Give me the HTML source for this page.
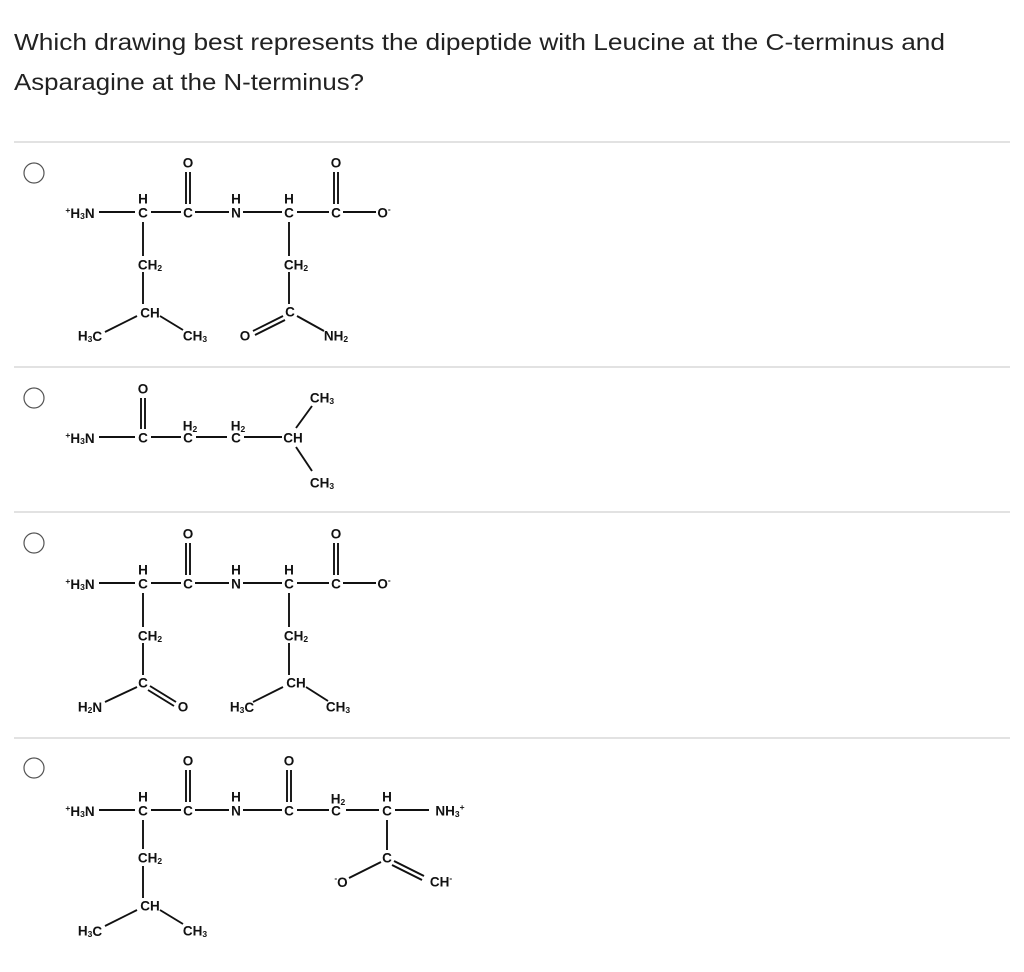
<!DOCTYPE html>
<html><head><meta charset="utf-8"><style>
html,body{margin:0;padding:0;background:#fff;width:1024px;height:972px;overflow:hidden}
svg{position:absolute;left:0;top:0}
.q{font-family:"Liberation Sans",sans-serif;font-size:23px;fill:#222}
.t{font-family:"Liberation Sans",sans-serif;font-weight:bold;font-size:13.5px;fill:#111;text-anchor:middle;dominant-baseline:central}
.s{font-size:8.5px}
line.b{stroke:#111;stroke-width:1.9}
line.sep{stroke:#d0d0d0;stroke-width:1.3}
circle.r{fill:#fff;stroke:#555;stroke-width:1.2}
</style></head><body>
<svg width="1024" height="972" viewBox="0 0 1024 972">
<text class="q" x="14" y="50" textLength="931" lengthAdjust="spacingAndGlyphs">Which drawing best represents the dipeptide with Leucine at the C-terminus and</text>
<text class="q" x="14" y="90" textLength="350" lengthAdjust="spacingAndGlyphs">Asparagine at the N-terminus?</text>
<line class="sep" x1="14" y1="142" x2="1010" y2="142"/>
<line class="sep" x1="14" y1="367" x2="1010" y2="367"/>
<line class="sep" x1="14" y1="512" x2="1010" y2="512"/>
<line class="sep" x1="14" y1="738" x2="1010" y2="738"/>
<circle class="r" cx="34" cy="173" r="10"/>
<circle class="r" cx="34" cy="398" r="10"/>
<circle class="r" cx="34" cy="543" r="10"/>
<circle class="r" cx="34" cy="768" r="10"/>

<!-- Structure 1 -->
<g>
<text class="t" x="80" y="213"><tspan class="s" dy="-3">+</tspan><tspan dy="3">H</tspan><tspan class="s" dy="3">3</tspan><tspan dy="-3">N</tspan></text>
<text class="t" x="143" y="199">H</text><text class="t" x="143" y="213">C</text>
<text class="t" x="188" y="163">O</text><text class="t" x="188" y="213">C</text>
<text class="t" x="236" y="199">H</text><text class="t" x="236" y="213">N</text>
<text class="t" x="289" y="199">H</text><text class="t" x="289" y="213">C</text>
<text class="t" x="336" y="163">O</text><text class="t" x="336" y="213">C</text>
<text class="t" x="384" y="213">O<tspan class="s" dy="-4">-</tspan></text>
<line class="b" x1="99" y1="212" x2="135" y2="212"/><line class="b" x1="151" y1="212" x2="181" y2="212"/>
<line class="b" x1="195" y1="212" x2="229" y2="212"/><line class="b" x1="243" y1="212" x2="282" y2="212"/>
<line class="b" x1="297" y1="212" x2="329" y2="212"/><line class="b" x1="343" y1="212" x2="376" y2="212"/>
<line class="b" x1="186" y1="172" x2="186" y2="204"/><line class="b" x1="190" y1="172" x2="190" y2="204"/>
<line class="b" x1="334" y1="172" x2="334" y2="204"/><line class="b" x1="338" y1="172" x2="338" y2="204"/>
<line class="b" x1="143" y1="222" x2="143" y2="256"/><line class="b" x1="143" y1="272" x2="143" y2="304"/>
<text class="t" x="150" y="265">CH<tspan class="s" dy="3">2</tspan></text>
<text class="t" x="150" y="313">CH</text>
<line class="b" x1="137" y1="316" x2="105" y2="332"/><line class="b" x1="160" y1="316" x2="183" y2="330"/>
<text class="t" x="90" y="336">H<tspan class="s" dy="3">3</tspan><tspan dy="-3">C</tspan></text>
<text class="t" x="195" y="336">CH<tspan class="s" dy="3">3</tspan></text>
<line class="b" x1="289" y1="222" x2="289" y2="256"/><line class="b" x1="289" y1="272" x2="289" y2="304"/>
<text class="t" x="296" y="265">CH<tspan class="s" dy="3">2</tspan></text>
<text class="t" x="290" y="312">C</text>
<line class="b" x1="283" y1="316" x2="253" y2="331"/><line class="b" x1="285" y1="320" x2="255" y2="335"/>
<line class="b" x1="297" y1="316" x2="324" y2="331"/>
<text class="t" x="245" y="336">O</text>
<text class="t" x="336" y="336">NH<tspan class="s" dy="3">2</tspan></text>
</g>

<!-- Structure 2 -->
<g>
<text class="t" x="80" y="438"><tspan class="s" dy="-3">+</tspan><tspan dy="3">H</tspan><tspan class="s" dy="3">3</tspan><tspan dy="-3">N</tspan></text>
<text class="t" x="143" y="389">O</text><text class="t" x="143" y="438">C</text>
<line class="b" x1="141" y1="398" x2="141" y2="429"/><line class="b" x1="145" y1="398" x2="145" y2="429"/>
<text class="t" x="190" y="426">H<tspan class="s" dy="3">2</tspan></text><text class="t" x="188" y="438">C</text>
<text class="t" x="238" y="426">H<tspan class="s" dy="3">2</tspan></text><text class="t" x="236" y="438">C</text>
<text class="t" x="293" y="438">CH</text>
<line class="b" x1="99" y1="437" x2="135" y2="437"/><line class="b" x1="151" y1="437" x2="181" y2="437"/>
<line class="b" x1="196" y1="437" x2="227" y2="437"/><line class="b" x1="244" y1="437" x2="282" y2="437"/>
<line class="b" x1="296" y1="428" x2="312" y2="406"/><line class="b" x1="296" y1="447" x2="312" y2="471"/>
<text class="t" x="322" y="398">CH<tspan class="s" dy="3">3</tspan></text>
<text class="t" x="322" y="483">CH<tspan class="s" dy="3">3</tspan></text>
</g>

<!-- Structure 3 -->
<g>
<text class="t" x="80" y="584"><tspan class="s" dy="-3">+</tspan><tspan dy="3">H</tspan><tspan class="s" dy="3">3</tspan><tspan dy="-3">N</tspan></text>
<text class="t" x="143" y="570">H</text><text class="t" x="143" y="584">C</text>
<text class="t" x="188" y="534">O</text><text class="t" x="188" y="584">C</text>
<text class="t" x="236" y="570">H</text><text class="t" x="236" y="584">N</text>
<text class="t" x="289" y="570">H</text><text class="t" x="289" y="584">C</text>
<text class="t" x="336" y="534">O</text><text class="t" x="336" y="584">C</text>
<text class="t" x="384" y="584">O<tspan class="s" dy="-4">-</tspan></text>
<line class="b" x1="99" y1="583" x2="135" y2="583"/><line class="b" x1="151" y1="583" x2="181" y2="583"/>
<line class="b" x1="195" y1="583" x2="229" y2="583"/><line class="b" x1="243" y1="583" x2="282" y2="583"/>
<line class="b" x1="297" y1="583" x2="329" y2="583"/><line class="b" x1="343" y1="583" x2="376" y2="583"/>
<line class="b" x1="186" y1="543" x2="186" y2="575"/><line class="b" x1="190" y1="543" x2="190" y2="575"/>
<line class="b" x1="334" y1="543" x2="334" y2="575"/><line class="b" x1="338" y1="543" x2="338" y2="575"/>
<line class="b" x1="143" y1="593" x2="143" y2="627"/><line class="b" x1="143" y1="643" x2="143" y2="675"/>
<text class="t" x="150" y="636">CH<tspan class="s" dy="3">2</tspan></text>
<text class="t" x="143" y="683">C</text>
<line class="b" x1="137" y1="687" x2="105" y2="702"/>
<line class="b" x1="150" y1="686" x2="176" y2="702"/><line class="b" x1="148" y1="690" x2="174" y2="706"/>
<text class="t" x="90" y="707">H<tspan class="s" dy="3">2</tspan><tspan dy="-3">N</tspan></text>
<text class="t" x="183" y="707">O</text>
<line class="b" x1="289" y1="593" x2="289" y2="627"/><line class="b" x1="289" y1="643" x2="289" y2="675"/>
<text class="t" x="296" y="636">CH<tspan class="s" dy="3">2</tspan></text>
<text class="t" x="296" y="683">CH</text>
<line class="b" x1="283" y1="687" x2="253" y2="702"/><line class="b" x1="306" y1="687" x2="328" y2="701"/>
<text class="t" x="242" y="707">H<tspan class="s" dy="3">3</tspan><tspan dy="-3">C</tspan></text>
<text class="t" x="338" y="707">CH<tspan class="s" dy="3">3</tspan></text>
</g>

<!-- Structure 4 -->
<g>
<text class="t" x="80" y="811"><tspan class="s" dy="-3">+</tspan><tspan dy="3">H</tspan><tspan class="s" dy="3">3</tspan><tspan dy="-3">N</tspan></text>
<text class="t" x="143" y="797">H</text><text class="t" x="143" y="811">C</text>
<text class="t" x="188" y="761">O</text><text class="t" x="188" y="811">C</text>
<text class="t" x="236" y="797">H</text><text class="t" x="236" y="811">N</text>
<text class="t" x="289" y="761">O</text><text class="t" x="289" y="811">C</text>
<text class="t" x="338" y="799">H<tspan class="s" dy="3">2</tspan></text><text class="t" x="336" y="811">C</text>
<text class="t" x="387" y="797">H</text><text class="t" x="387" y="811">C</text>
<text class="t" x="450" y="811">NH<tspan class="s" dy="3">3</tspan><tspan class="s" dy="-7">+</tspan></text>
<line class="b" x1="99" y1="810" x2="135" y2="810"/><line class="b" x1="151" y1="810" x2="181" y2="810"/>
<line class="b" x1="195" y1="810" x2="229" y2="810"/><line class="b" x1="243" y1="810" x2="282" y2="810"/>
<line class="b" x1="297" y1="810" x2="329" y2="810"/><line class="b" x1="346" y1="810" x2="379" y2="810"/>
<line class="b" x1="395" y1="810" x2="429" y2="810"/>
<line class="b" x1="186" y1="770" x2="186" y2="802"/><line class="b" x1="190" y1="770" x2="190" y2="802"/>
<line class="b" x1="287" y1="770" x2="287" y2="802"/><line class="b" x1="291" y1="770" x2="291" y2="802"/>
<line class="b" x1="387" y1="820" x2="387" y2="850"/>
<text class="t" x="387" y="858">C</text>
<line class="b" x1="381" y1="862" x2="349" y2="878"/>
<line class="b" x1="394" y1="861" x2="424" y2="876"/><line class="b" x1="392" y1="865" x2="422" y2="880"/>
<text class="t" x="341" y="882"><tspan class="s" dy="-4">-</tspan><tspan dy="4">O</tspan></text>
<text class="t" x="441" y="882">CH<tspan class="s" dy="-4">-</tspan></text>
<line class="b" x1="143" y1="820" x2="143" y2="849"/><line class="b" x1="143" y1="866" x2="143" y2="898"/>
<text class="t" x="150" y="858">CH<tspan class="s" dy="3">2</tspan></text>
<text class="t" x="150" y="906">CH</text>
<line class="b" x1="137" y1="910" x2="105" y2="926"/><line class="b" x1="160" y1="910" x2="183" y2="924"/>
<text class="t" x="90" y="931">H<tspan class="s" dy="3">3</tspan><tspan dy="-3">C</tspan></text>
<text class="t" x="195" y="931">CH<tspan class="s" dy="3">3</tspan></text>
</g>
</svg>
</body></html>
